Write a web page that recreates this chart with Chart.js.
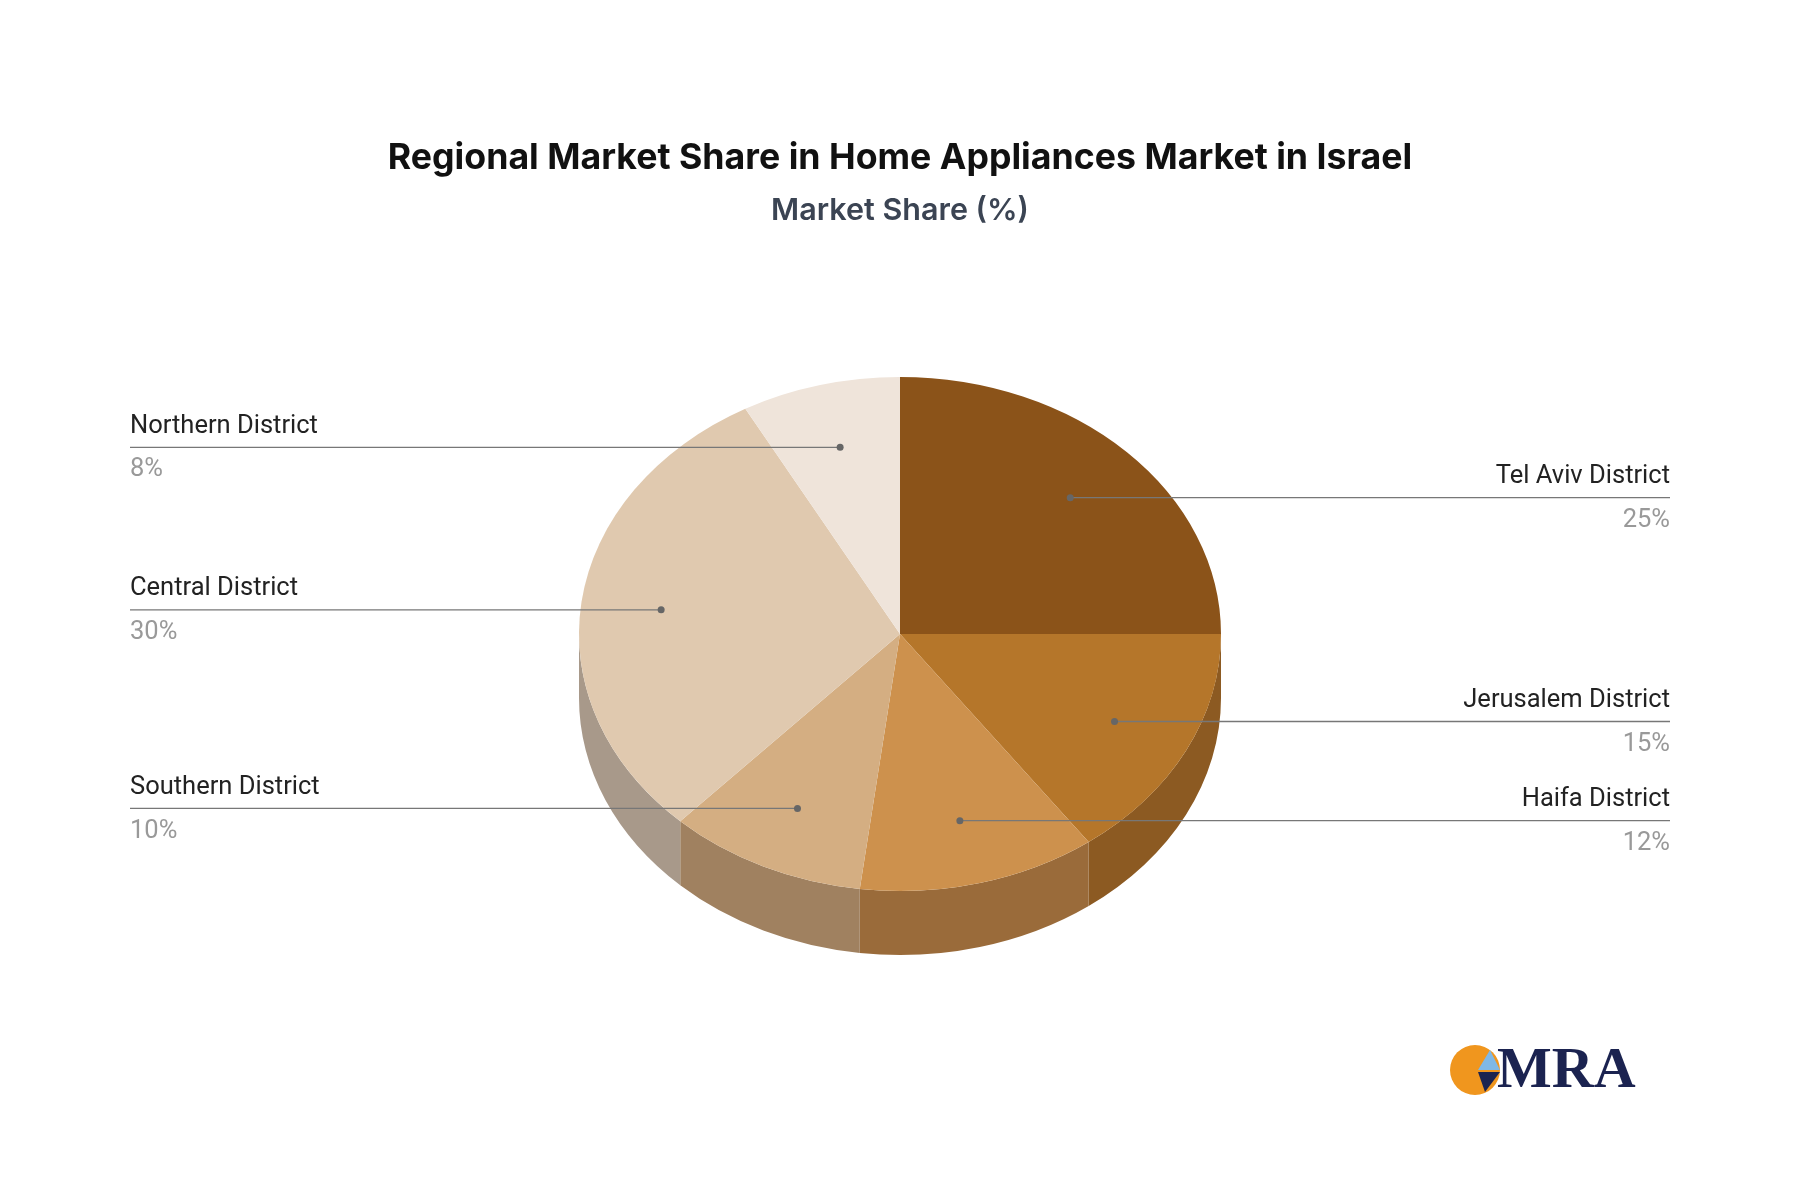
<!DOCTYPE html>
<html><head><meta charset="utf-8">
<script src="https://cdn.jsdelivr.net/npm/chart.js@4/dist/chart.umd.min.js"></script>
<style>html,body{margin:0;background:#fff}#w{width:1800px;height:1196px}</style>
</head><body><div id="w"><canvas id="c"></canvas></div>
<script>
const categories = ["Tel Aviv District","Jerusalem District","Haifa District","Southern District","Central District","Northern District"];
const shares = [25,15,12,10,30,8];
const colors = ["#8B5319","#B5762A","#CD914D","#D4AE82","#E0C9AF","#EFE4DA"];
const sideColors = ["#8A5720","#8C5A22","#9A6B3A","#A08160","#A8998A","#B0A79E"];
const sides = ["right","right","right","left","left","left"];
const K = 257/321, DEPTH = 64, R = 321;

const pie3d = {
  id:'pie3d',
  beforeDatasetsDraw(chart){
    const ctx = chart.ctx, meta = chart.getDatasetMeta(0);
    const a0 = meta.data[0]; const cx=a0.x, cy=a0.y;
    meta.data.forEach((arc,i)=>{
      const s=Math.max(arc.startAngle,0), e=Math.min(arc.endAngle,Math.PI);
      if(e<=s) return;
      ctx.save(); ctx.fillStyle=sideColors[i]; ctx.beginPath();
      ctx.ellipse(cx,cy,R,R*K,0,s,e,false);
      ctx.ellipse(cx,cy+DEPTH,R,R*K,0,e,s,true);
      ctx.closePath(); ctx.fill(); ctx.restore();
    });
    ctx.save(); ctx.translate(cx,cy); ctx.scale(1,K); ctx.translate(-cx,-cy);
  },
  afterDatasetsDraw(chart){
    const ctx = chart.ctx; ctx.restore();
    const meta = chart.getDatasetMeta(0);
    meta.data.forEach((arc,i)=>{
      const m=(arc.startAngle+arc.endAngle)/2;
      const dx=arc.x+0.75*R*Math.cos(m), dy=arc.y+0.75*R*K*Math.sin(m);
      const right = sides[i]==='right';
      const ex = right?1670:130;
      ctx.strokeStyle='#777'; ctx.lineWidth=1.3;
      ctx.beginPath(); ctx.moveTo(dx,dy); ctx.lineTo(ex,dy); ctx.stroke();
      ctx.fillStyle='#666'; ctx.beginPath(); ctx.arc(dx,dy,3.5,0,Math.PI*2); ctx.fill();
      ctx.textAlign = right?'right':'left';
      ctx.font='25.5px Roboto'; ctx.fillStyle='#222'; ctx.textBaseline='bottom';
      ctx.fillText(categories[i],ex,dy-8);
      ctx.fillStyle='#999'; ctx.textBaseline='top';
      ctx.fillText(shares[i]+'%',ex,dy+10);
    });
    ctx.textAlign='center'; ctx.textBaseline='middle';
    ctx.font='bold 35.7px Inter'; ctx.fillStyle='#111';
    ctx.fillText('Regional Market Share in Home Appliances Market in Israel',900,158);
    ctx.font='600 30.5px Inter'; ctx.fillStyle='#3b4453';
    ctx.fillText('Market Share (%)',900,211);
    ctx.fillStyle='#F0961E'; ctx.beginPath(); ctx.arc(1475,1070,25,0,Math.PI*2); ctx.fill();
    ctx.fillStyle='#7FB8E6'; ctx.beginPath(); ctx.moveTo(1478,1070); ctx.lineTo(1500,1070); ctx.lineTo(1490,1050); ctx.closePath(); ctx.fill();
    ctx.fillStyle='#1b2350'; ctx.beginPath(); ctx.moveTo(1478,1072); ctx.lineTo(1500,1072); ctx.lineTo(1485,1092); ctx.closePath(); ctx.fill();
    ctx.font='bold 58px "Liberation Serif"'; ctx.fillStyle='#1b2350'; ctx.textAlign='left';
    ctx.fillText('MRA',1497,1072);
  }
};

new Chart(document.getElementById('c'),{
  type:'pie',
  data:{labels:categories,datasets:[{data:shares,backgroundColor:colors,borderWidth:0,radius:R}]},
  options:{responsive:true,maintainAspectRatio:false,animation:false,
    layout:{padding:{top:172,bottom:100}},
    events:[],
    plugins:{legend:{display:false},tooltip:{enabled:false}}},
  plugins:[pie3d]
});
</script></body></html>
